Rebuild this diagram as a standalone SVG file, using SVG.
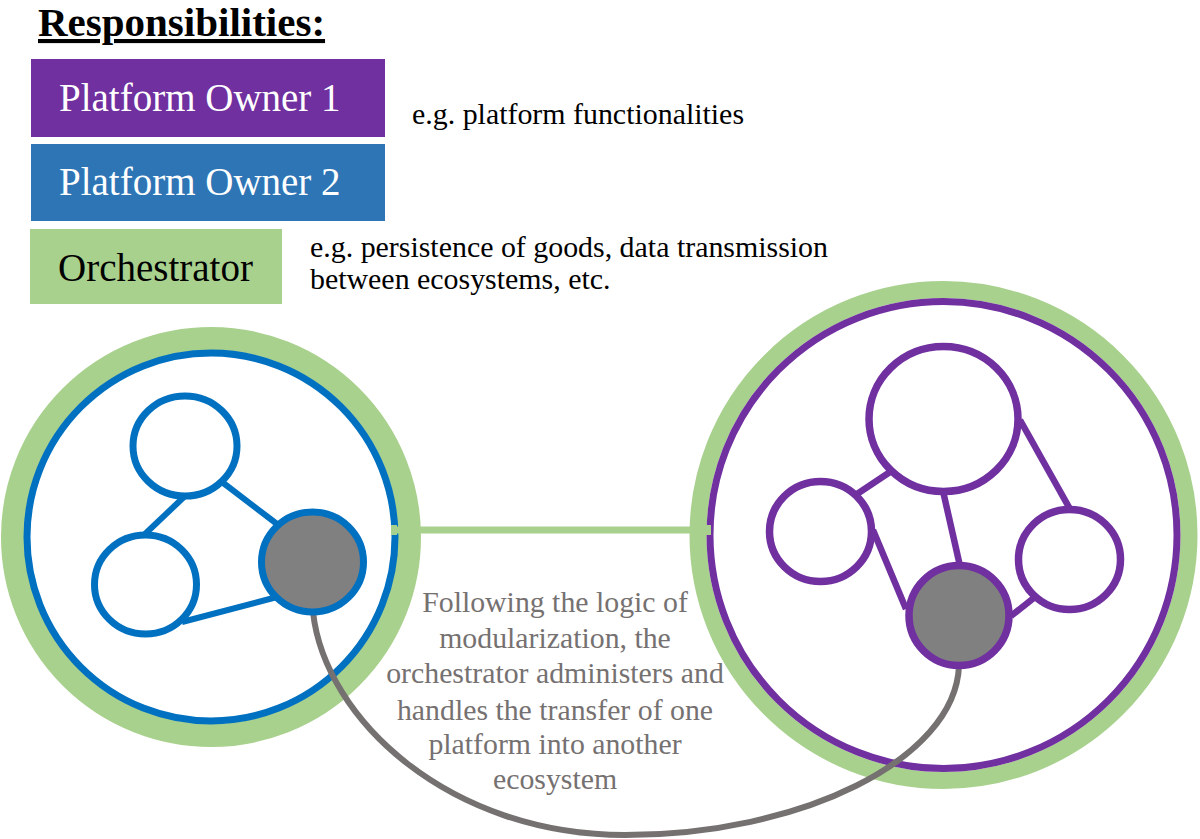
<svg xmlns="http://www.w3.org/2000/svg" width="1200" height="839" viewBox="0 0 1200 839" font-family="'Liberation Serif', 'DejaVu Serif', serif">
<style>
.lbl{font-size:39px}
.desc{font-size:29.9px;fill:#000}
.mid{font-size:29.8px;fill:#767171;text-anchor:middle}
.bnode{fill:#fff;stroke:#0070C0;stroke-width:7}
.pnode{fill:#fff;stroke:#7030A0;stroke-width:7.5}
.gray{fill:#808080}
.bl{stroke:#0070C0;stroke-width:6;fill:none}
.pl{stroke:#7030A0;stroke-width:6.5;fill:none}
</style>
<rect width="1200" height="839" fill="#fff"/>

<g id="legend">
<text x="38" y="36" font-size="41" font-weight="bold" text-decoration="underline">Responsibilities:</text>
<g id="owner1"><rect x="31" y="59" width="354" height="78" fill="#7030A0"/><text class="lbl" x="59" y="111" fill="#fff">Platform Owner 1</text></g>
<g id="owner2"><rect x="31" y="144" width="354" height="77" fill="#2E75B6"/><text class="lbl" x="59" y="195" fill="#fff">Platform Owner 2</text></g>
<g id="orch"><rect x="30" y="229" width="252" height="75" fill="#A9D18E"/><text class="lbl" x="58" y="281" fill="#000">Orchestrator</text></g>
<text class="desc" x="412" y="124">e.g. platform functionalities</text>
<text class="desc" x="310" y="257">e.g. persistence of goods, data transmission</text>
<text class="desc" x="310" y="289">between ecosystems, etc.</text>
</g>

<g id="ecosystem-left">
<circle cx="211" cy="537" r="198.5" fill="none" stroke="#A9D18E" stroke-width="23"/>
<circle cx="211" cy="537" r="184" fill="#fff" stroke="#0070C0" stroke-width="7"/>
</g>
<g id="ecosystem-right">
<circle cx="943.5" cy="535" r="245.5" fill="none" stroke="#A9D18E" stroke-width="17"/>
<circle cx="943.5" cy="535" r="233.5" fill="#fff" stroke="#7030A0" stroke-width="7"/>
</g>

<g id="connectors">
<rect x="392" y="526.5" width="318" height="7" fill="#A9D18E"/>
<rect x="391" y="525" width="6" height="10" fill="#A9D18E"/>
<rect x="705" y="525" width="6" height="10" fill="#A9D18E"/>
<line class="bl" x1="185" y1="496" x2="145" y2="534"/>
<line class="bl" x1="222" y1="482" x2="277" y2="524"/>
<line class="bl" x1="182" y1="622" x2="277" y2="597"/>
<line class="pl" x1="890" y1="472" x2="857" y2="494"/>
<line class="pl" x1="1020" y1="420" x2="1070" y2="509"/>
<line class="pl" x1="943" y1="491" x2="960" y2="566"/>
<line class="pl" x1="873" y1="530" x2="906" y2="609"/>
<line class="pl" x1="1011" y1="616" x2="1035" y2="597"/>
<path d="M313,612 C325,720 450,835 625,835 C800,835 955,760 959,666" fill="none" stroke="#767171" stroke-width="6"/>
</g>

<g id="left-top"><ellipse class="bnode" cx="185" cy="446" rx="52" ry="50"/></g>
<g id="left-bottom"><ellipse class="bnode" cx="145.5" cy="584.5" rx="51" ry="49.5"/></g>
<g id="left-gray"><ellipse class="bnode gray" cx="312.5" cy="562" rx="51" ry="50"/></g>

<g id="right-top"><ellipse class="pnode" cx="943.5" cy="419" rx="74.5" ry="72.5"/></g>
<g id="right-left"><ellipse class="pnode" cx="820.5" cy="531.5" rx="51" ry="50"/></g>
<g id="right-right"><ellipse class="pnode" cx="1069.5" cy="559.5" rx="51" ry="50"/></g>
<g id="right-gray"><ellipse class="pnode gray" cx="959" cy="615.5" rx="50" ry="50"/></g>

<g id="caption">
<text class="mid" x="555" y="612">Following the logic of</text>
<text class="mid" x="555" y="648">modularization, the</text>
<text class="mid" x="555" y="683">orchestrator administers and</text>
<text class="mid" x="555" y="720">handles the transfer of one</text>
<text class="mid" x="555" y="754">platform into another</text>
<text class="mid" x="555" y="789">ecosystem</text>
</g>
</svg>
